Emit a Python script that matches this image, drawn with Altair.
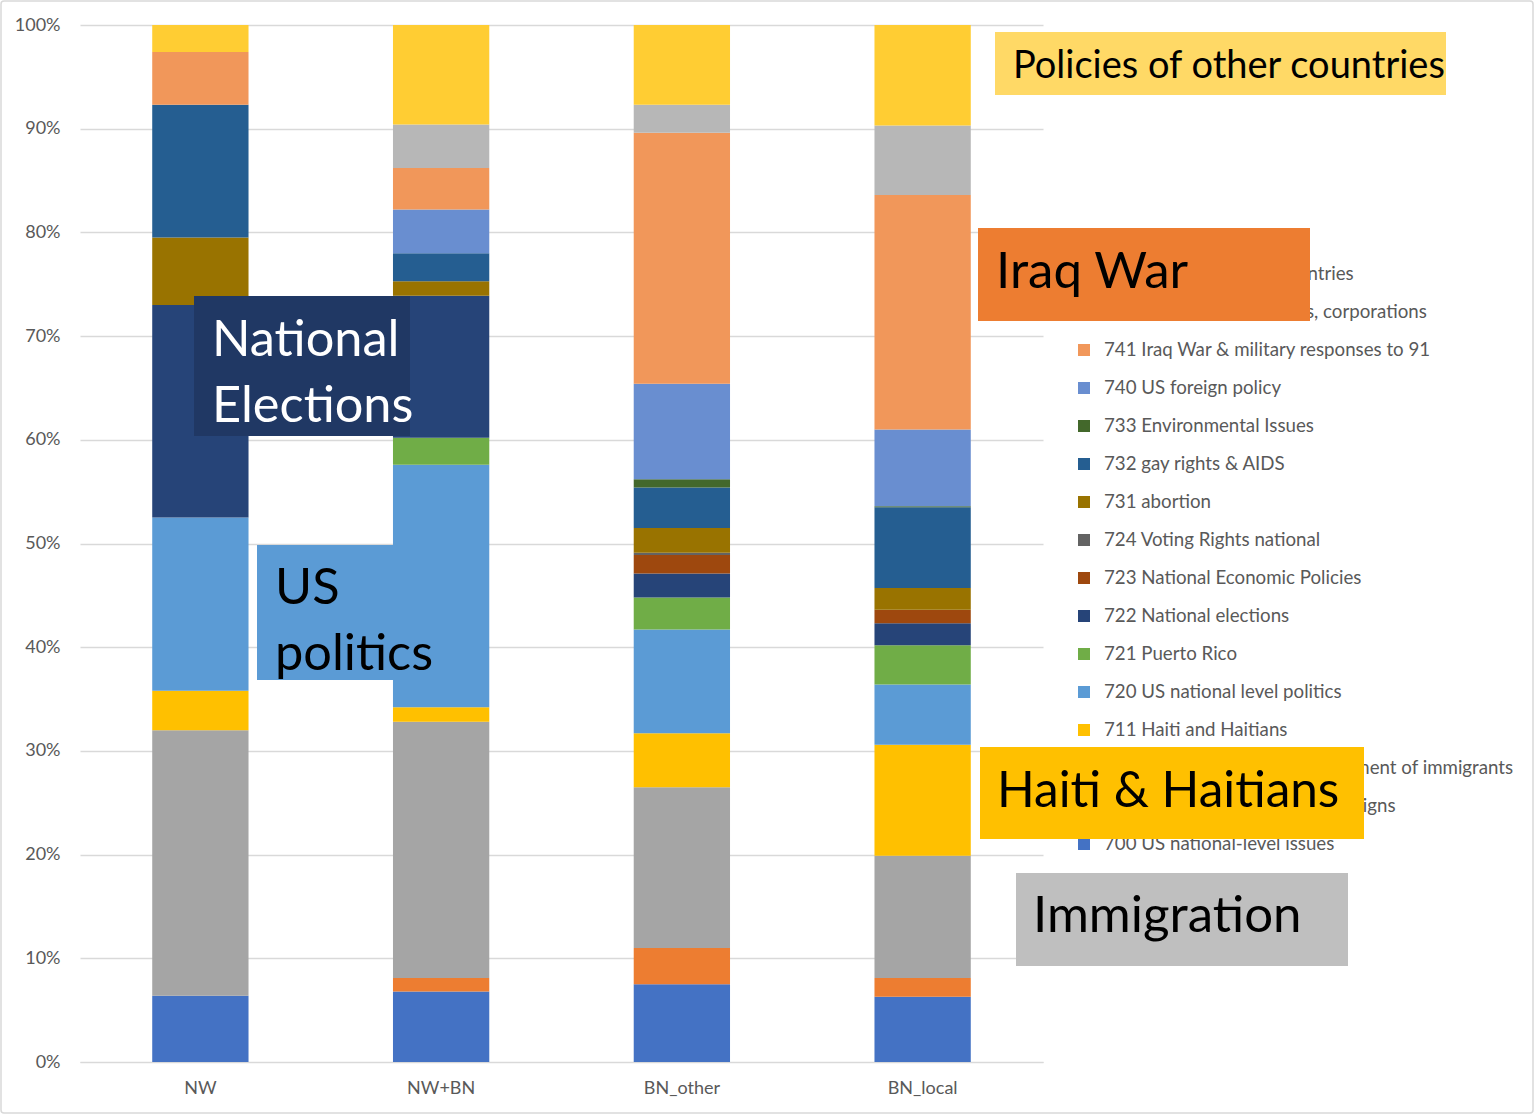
import altair as alt
import pandas as pd

# Bar categories (x axis)
categories = ["NW", "NW+BN", "BN_other", "BN_local"]

# Topic codes, bottom of the stack first
series = [
    "700 US national-level issues",
    "701 US national political campaigns",
    "710 Immigration policy & treatment of immigrants",
    "711 Haiti and Haitians",
    "720 US national level politics",
    "721 Puerto Rico",
    "722 National elections",
    "723 National Economic Policies",
    "724 Voting Rights national",
    "731 abortion",
    "732 gay rights & AIDS",
    "733 Environmental Issues",
    "740 US foreign policy",
    "741 Iraq War & military responses to 91",
    "742 Foreign governments, corporations",
    "750 Policies of other countries",
]

colors = [
    "#4472C4", "#ED7D31", "#A5A5A5", "#FFC000", "#5B9BD5", "#70AD47",
    "#264478", "#9E480E", "#636363", "#997300", "#255E91", "#43682B",
    "#698ED0", "#F1975A", "#B7B7B7", "#FFCD33",
]

# Share of coverage (%) per topic, one list per category, same order as `series`
nw       = [6.4, 0.0, 25.6, 3.8, 16.7, 0.0, 20.5, 0.0, 0.0, 6.5, 12.8, 0.0, 0.0, 5.1, 0.0, 2.6]
nw_bn    = [6.8, 1.3, 24.7, 1.4, 23.4, 2.6, 13.7, 0.0, 0.0, 1.4, 2.7, 0.0, 4.2, 4.0, 4.2, 9.6]
bn_other = [7.5, 3.5, 15.5, 5.2, 10.0, 3.1, 2.3, 1.8, 0.2, 2.4, 3.9, 0.8, 9.2, 24.2, 2.7, 7.7]
bn_local = [6.3, 1.8, 11.8, 10.7, 5.8, 3.8, 2.1, 1.3, 0.0, 2.1, 7.8, 0.1, 7.4, 22.6, 6.7, 9.7]

FONT = "Lato"
LABEL_GREY = "#595959"
GRID = "#D9D9D9"

rows = []
for cat, vals in zip(categories, [nw, nw_bn, bn_other, bn_local]):
    for i, (s, v) in enumerate(zip(series, vals)):
        rows.append({"category": cat, "series": s, "idx": i, "value": v})
df = pd.DataFrame(rows)

color_scale = alt.Scale(domain=series, range=colors)

bars = alt.Chart(df).mark_bar().encode(
    x=alt.X(
        "category:N",
        sort=categories,
        scale=alt.Scale(paddingInner=0.6, paddingOuter=0.3),
        axis=alt.Axis(
            title=None, labelAngle=0, labelFont=FONT, labelFontSize=18,
            labelColor=LABEL_GREY, ticks=False, domain=True, domainColor=GRID,
            labelPadding=17,
        ),
    ),
    y=alt.Y(
        "value:Q",
        stack="normalize",
        scale=alt.Scale(domain=[0, 1]),
        axis=alt.Axis(
            title=None, format=".0%", values=[i / 10 for i in range(11)],
            labelFont=FONT, labelFontSize=18, labelColor=LABEL_GREY,
            ticks=False, domain=False, gridColor=GRID, gridWidth=1.3,
            labelPadding=20,
        ),
    ),
    color=alt.Color("series:N", scale=color_scale, legend=None),
    order=alt.Order("idx:Q", sort="ascending"),
)

# Hand-built legend, newest code on top
legend_df = pd.DataFrame({"series": series[::-1]})
legend_y = alt.Y(
    "series:N",
    sort=series[::-1],
    scale=alt.Scale(type="point", domain=series[::-1], range=[249, 819], padding=0),
    axis=None,
)
legend_sym = alt.Chart(legend_df).mark_square(size=144, opacity=1).encode(
    x=alt.value(1004),
    y=legend_y,
    color=alt.Color("series:N", scale=color_scale, legend=None),
)
legend_txt = alt.Chart(legend_df).mark_text(
    align="left", baseline="middle", font=FONT, fontSize=18.7, color=LABEL_GREY
).encode(x=alt.value(1024), y=legend_y, text="series:N")


def callout(lines, x0, x1, y0, y1, fill, tx, ty, size, text_color="black", line_h=66):
    box = alt.Chart(pd.DataFrame({"t": [lines[0]]})).mark_rect(color=fill).encode(
        x=alt.value(x0), x2=alt.value(x1), y=alt.value(y0), y2=alt.value(y1)
    )
    layers = [box]
    for k, line in enumerate(lines):
        layers.append(
            alt.Chart(pd.DataFrame({"t": [line]})).mark_text(
                align="left", baseline="middle", font=FONT, fontSize=size,
                color=text_color,
            ).encode(x=alt.value(tx), y=alt.value(ty + k * line_h), text="t:N")
        )
    return layers


annotations = []
annotations += callout(["Policies of other countries"], 915, 1366, 7, 70, "#FFD966", 933, 42, 38)
annotations += callout(["Iraq War"], 898, 1230, 203, 296, "#ED7D31", 916, 248, 51)
annotations += callout(["National", "Elections"], 114, 330, 271, 411, "#203864", 132, 316, 50.5, "white")
annotations += callout(["US", "politics"], 177, 313, 520, 655, "#5B9BD5", 195, 564, 50.5)
annotations += callout(["Haiti & Haitians"], 900, 1284, 722, 814, "#FFC000", 917, 767, 49.5)
annotations += callout(["Immigration"], 936, 1268, 848, 941, "#BFBFBF", 953, 892, 51)

frame = alt.Chart(pd.DataFrame({"t": [""]})).mark_rect(
    fill=None, stroke=GRID, strokeWidth=1.5, cornerRadius=3
).encode(x=alt.value(-79), x2=alt.value(1453), y=alt.value(-24), y2=alt.value(1088))

chart = alt.layer(bars, legend_sym, legend_txt, *annotations, frame).resolve_scale(
    y="independent"
).properties(
    width=963,
    height=1037,
    padding={"left": 80, "top": 25, "right": 493, "bottom": 54},
    autosize=alt.AutoSizeParams(type="none"),
    background="white",
).configure_view(stroke=None)

chart.save("out.html", embed_options={"renderer": "svg", "actions": False})
